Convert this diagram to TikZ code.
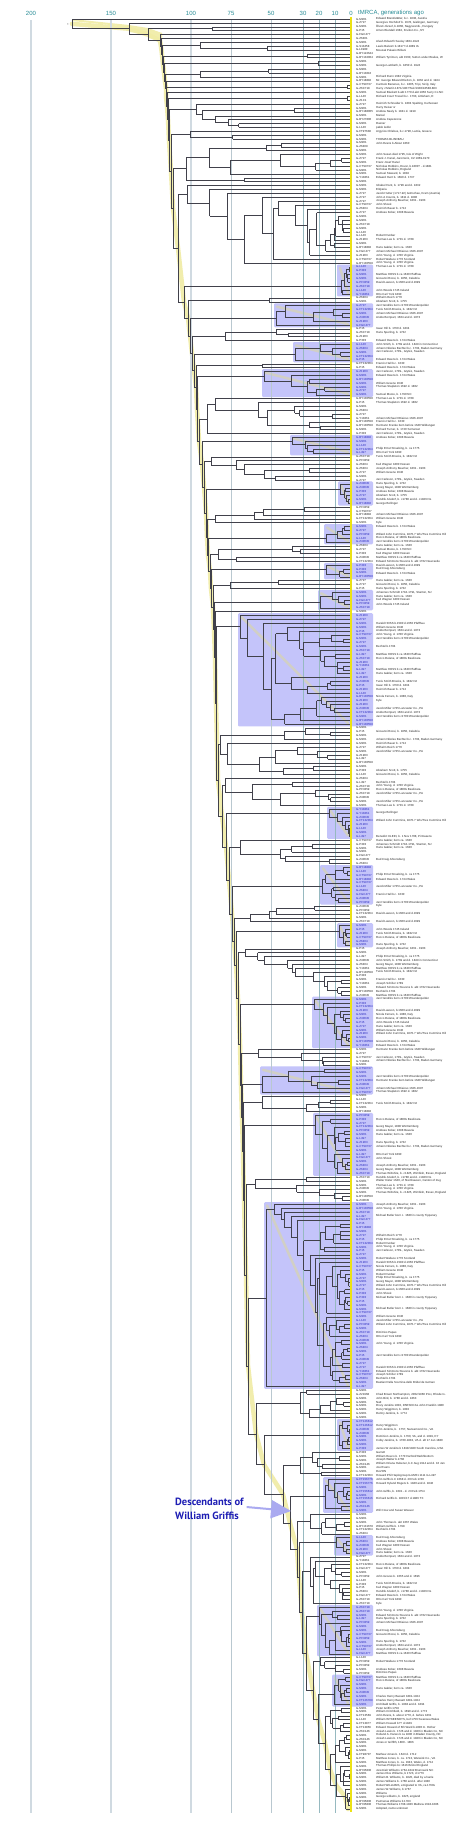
\documentclass[tikz,border=0pt]{standalone}
\usepackage{fontspec}
\setmainfont{Liberation Sans}
\setsansfont{Liberation Sans}
\newfontfamily\annfont{PT Sans}
\usetikzlibrary{arrows.meta}
\pgfdeclarelayer{boxl}
\pgfdeclarelayer{hll}
\pgfsetlayers{boxl,hll,main}
\definecolor{gridc}{RGB}{208,218,225}
\definecolor{gridm}{RGB}{185,200,208}
\definecolor{gridd}{RGB}{150,185,192}
\definecolor{axisc}{RGB}{40,140,150}
\definecolor{boxc}{RGB}{196,196,250}
\definecolor{hlc}{RGB}{240,236,165}
\definecolor{hlg}{RGB}{212,210,188}
\definecolor{zeroc}{RGB}{236,226,20}
\definecolor{edgec}{RGB}{65,65,75}
\definecolor{idblue}{RGB}{40,40,190}
\definecolor{idblack}{RGB}{40,40,40}
\definecolor{annc}{RGB}{30,30,180}
\definecolor{arrc}{RGB}{170,170,240}
\tikzset{
 edge/.style={draw=edgec, line width=0.5pt},
 gridmajor/.style={draw=gridc, line width=1.6pt},
 gridmid/.style={draw=gridm, line width=0.9pt},
 gridminor/.style={draw=gridd, line width=0.6pt},
 zeroline/.style={draw=zeroc, line width=1.6pt},
 axislab/.style={text=axisc, font=\fontsize{6}{7}\selectfont, inner sep=0pt},
 idlab/.style={anchor=west, inner sep=0pt, font=\fontsize{2.9}{3}\selectfont},
 nmlab/.style={anchor=west, inner sep=0pt, font=\fontsize{2.9}{3}\selectfont, text=idblack},
 clbox/.style={fill=boxc, draw=none, rounded corners=1.2pt},
 hlpath/.style={draw=hlc, line width=4.5pt, opacity=0.9, line join=round, line cap=round},
 hlwedge/.style={fill=hlc, draw=none, opacity=0.9},
 hlbox/.style={draw=hlg, line width=2.5pt, opacity=0.85, line cap=round},
 anntext/.style={font=\annfont\bfseries\fontsize{10.5}{13.5}\selectfont, text=annc, align=left, inner sep=0pt},
 annarrow/.style={draw=arrc, line width=2pt, -{Triangle[width=18pt,length=20pt]}},
}
% ---------- recursive subtree drawing ----------
\newcommand\gtree[3]{%
  \ifnum#1=#2\relax
    \pgfmathsetmacro\gyl{19+3.874*#1}%
    \draw[edge] (#3,\gyl) -- (351,\gyl);%
    \xdef\retY{\gyl}%
  \else
    \pgfmathsetmacro\gx{min(349,#3+(351-#3)*(0.04+rnd*0.75/(1+(#2-#1)/5)))}%
    \edef\gtmp{\noexpand\gnode{#1}{#2}{\gx}{#3}}\gtmp
  \fi}
\newcommand\gnode[4]{%
  \begingroup
  \pgfmathsetmacro\gp{rnd}%
  \ifdim\gp pt<0.42pt \edef\gk{#1}%
  \else\ifdim\gp pt<0.6pt \pgfmathtruncatemacro\gk{#2-1}%
  \else \pgfmathtruncatemacro\gk{min(#2-1,#1+floor(rnd*(#2-#1)))}%
  \fi\fi
  \pgfmathtruncatemacro\gkk{\gk+1}%
  \edef\gtmp{\noexpand\gtree{#1}{\gk}{#3}}\gtmp
  \let\gyA\retY
  \edef\gtmp{\noexpand\gtree{\gkk}{#2}{#3}}\gtmp
  \let\gyB\retY
  \draw[edge] (#3,\gyA) -- (#3,\gyB);
  \pgfmathsetmacro\gym{(\gyA+\gyB)/2}%
  \draw[edge] (#4,\gym) -- (#3,\gym);
  \xdef\retY{\gym}%
  \endgroup}
% ---------- explicit leaf labels ----------
\newcommand\defnm[3]{\expandafter\def\csname id#1\endcsname{#2}\expandafter\def\csname nm#1\endcsname{#3}}
\defnm{0}{G-M201}{Edward Brandstätter, b.c. 1838, Austria}
\defnm{1}{G-Z727}{Georgius Hochdorf b. 1678, Gielingen, Germany}
\defnm{2}{G-M201}{Ölveti József, b.1860, Nagyszentk., Hungary}
\defnm{3}{G-P15}{Amon Blundell 1682, Fruition Co., NY}
\defnm{4}{G-FGC477}{}
\defnm{5}{G-Z6401}{}
\defnm{6}{G-M201}{Alvah Edworth Seeley 1864-1924}
\defnm{7}{G-S13458}{Lewis Balsom b.1817?-d.1889 IA}
\defnm{8}{G-L1980}{Mouzak Palaeio Billiani}
\defnm{9}{G-BY122644}{}
\defnm{10}{G-BY132064}{William Tyrrimen, abt 1560, Sutton under Brailes, W}
\defnm{11}{G-M201}{}
\defnm{12}{G-M201}{George Lambeth, b. 1850 d. 1924}
\defnm{13}{G-M201}{}
\defnm{14}{G-BY13616}{}
\defnm{15}{G-M201}{Richard Dunn 1682 Virginia}
\defnm{16}{G-BY18882}{Mr. George Edward Dierton, b. 1862 and d. 1944}
\defnm{17}{G-CTS9737}{Carmelo Beneneo, b.c. 1805, Tripi, Sicily, Italy}
\defnm{18}{G-Z6C718}{Harry J Martin 1871/1967/Talc/1930/1858/1883}
\defnm{19}{G-M201}{Samuel Blackett b.abt 1770 d.abt 1850 Surry Co NC}
\defnm{20}{G-L140}{Richard Court Tresell b.c. 1763, Littleham, D}
\defnm{21}{G-Z1C1}{}
\defnm{22}{G-Z727}{Heinrich Schneider b. 1804 Spalting, Kurhessen}
\defnm{23}{G-M201}{Harry Heiser sr}
\defnm{24}{G-BY188005}{Andrew Neely b. 1841 d. 1919}
\defnm{25}{G-M201}{Marsel}
\defnm{26}{G-BY27806}{Andrew Capezzone}
\defnm{27}{G-M201}{Daxner}
\defnm{28}{G-L140}{pablo ledón}
\defnm{29}{G-FT97638}{Argyrios Chlebus, b.c.1790, Lamia, Greece}
\defnm{30}{G-M201}{}
\defnm{31}{G-M201}{THOMAS BLISDEAU}
\defnm{32}{G-M201}{John Evans b.About 1860}
\defnm{33}{G-Z6409}{}
\defnm{34}{G-M201}{}
\defnm{35}{G-M201}{John Susan died 1795, Isle of Wight}
\defnm{36}{G-Z727}{Frank J. Hanel, Jaromeriz, CZ 1869-1970}
\defnm{37}{G-M201}{Franz Josef Hanel}
\defnm{38}{G-CTS9737}{Nicholas Robbins, Dover, b.1800? - d.1881}
\defnm{39}{G-M201}{Nicholas Robbins, England}
\defnm{40}{G-M201}{Samuel Steward, b. 1804}
\defnm{41}{G-Y13861}{Edward Hunt b. 1690 d. 1737}
\defnm{42}{G-M201}{}
\defnm{43}{G-M201}{Ishabel Hunt, b. 1796 and d. 1832}
\defnm{44}{G-M201}{Eldyaria}
\defnm{45}{G-Z727}{Jacob Hutter (1717-92) Gottschee, Kram (Austria)}
\defnm{46}{G-Z727}{John A Counts, b. 1811 d. 1886}
\defnm{352}{G-M201}{Bastian Della Scumina dello Bridel de Gotnan}
\defnm{353}{G-L497}{}
\defnm{354}{G-M201}{}
\defnm{355}{G-Z21968}{Chad Brown Northampton, 2002/1960 Prov, Rhode Is.}
\defnm{356}{G-M201}{John Bird, b. 1780 and d. 1863}
\defnm{357}{G-M201}{Natt}
\defnm{358}{G-M201}{Drury Jenkins 1802, PARSOCAL John Franklin 1880}
\defnm{359}{G-M201}{Henry Wigginton, b. 1802}
\defnm{360}{G-M201}{Dentry Jenkins, b. 1774}
\defnm{361}{G-M201}{}
\defnm{362}{G-FT126612}{}
\defnm{363}{G-FT126612}{Henry Wigginton}
\defnm{364}{G-Z40045}{John Jenkins, b. ~1757, Nansemond Co., VA}
\defnm{365}{G-Z40045}{}
\defnm{366}{G-M201}{Dominion Jenkins, b. 1760, VA, and d. 1819, KY}
\defnm{367}{G-M201}{Colby Jenkins, b. 1760-1833, VA d. aft 17 Jun 1880}
\defnm{368}{G-M201}{}
\defnm{369}{G-P303}{James W Jenkins b 1810/1820 South Carolina, USA}
\defnm{370}{G-P303}{Garrett}
\defnm{371}{G-M201}{William Reeco b. 1770 Harford/Harbhbottom}
\defnm{372}{G-M201}{Joseph Walter b.1760}
\defnm{373}{G-Z6C146}{William Oriana Hubener, b.C Aug 1914 and d. 16 Jan}
\defnm{374}{G-M201}{Joe Evans}
\defnm{375}{G-M201}{DeVON}
\defnm{376}{G-FT132063}{Howard Phil Haplogroup G-M201 1111 G-L497}
\defnm{377}{G-FT156776}{John Griffis b.C 1668 d. 20 Feb 1740}
\defnm{378}{G-FT156776}{Howard Hyland Rogers b. 1840 and d. 1846}
\defnm{379}{G-M201}{}
\defnm{380}{G-FT156612}{John Griffis, b. 1691 - d. 23 Feb 1754}
\defnm{381}{G-M201}{}
\defnm{382}{G-FT156616}{Richard Griffis b. 1815/17 d.1886 TX}
\defnm{383}{G-M201}{}
\defnm{384}{G-Z6C146}{}
\defnm{385}{G-M201}{Will Crow and Susan Weaver}
\defnm{386}{G-M201}{}
\defnm{387}{G-M201}{}
\defnm{388}{G-M201}{John Thomas b. abt 1667 Wales}
\defnm{389}{G-BY131678}{William Griffis b. 1798}
\defnm{433}{G-M201}{Charles Henry Bassett 1881-1924}
\defnm{434}{G-FT126789}{Charles Henry Bassett 1881-1924}
\defnm{435}{G-M201}{Archibald Griffis, b. 1838 and d. 1894}
\defnm{436}{G-M201}{Peter Griffin 1758}
\defnm{437}{G-M201}{William Critchfield, b. 1690 and d. 1773}
\defnm{438}{G-FT13569}{John Evans, b. about 1770, d. before 1861}
\defnm{439}{G-L140}{William WYKEENOYS, bef 1756 Swansea Wales}
\defnm{440}{G-FT13877}{William Howard b?? d.1849}
\defnm{441}{G-FT13856}{Edward Howard of 6th Ward b.1806 m. Esther}
\defnm{442}{G-Z6C146}{Josiah Lewis b. 1726 and d. 1820 in Bladen Co, NC}
\defnm{443}{G-M201}{Holland A. Hanes b ca 1806 in Bladen County, NC}
\defnm{444}{G-Z6C146}{Josiah Lewis b. 1726 and d. 1820 in Bladen Co, NC}
\defnm{445}{G-M201}{Jones or Griffith, 1800 - 1866}
\defnm{446}{G-M201}{}
\defnm{447}{G-M201}{}
\defnm{448}{G-FT98707}{Mathew Jones b. 1643 d. 1712}
\defnm{449}{G-P15}{Matthew Jones, b. ca. 1713, Warwick Co., VA}
\defnm{450}{G-M201}{Matthew Jones, b. ca. 1643, Wales, d. 1712}
\defnm{451}{G-M201}{Thomas Phillips bc 1616 Bristol England}
\defnm{452}{G-BY95830}{Jeremiah Williams 1764-1842 Brunswick NC}
\defnm{453}{G-M201}{James Rice Williams, b 1723, d 1776}
\defnm{454}{G-M201}{William B. Williams, b. 1820, died by a hanle}
\defnm{455}{G-M201}{James Williams b. 1760 and d. after 1840}
\defnm{456}{G-M201}{Robert WILLIAMS, emigrated to VA, ca 1760s}
\defnm{457}{G-M201}{James W. Williams, b 1767}
\defnm{458}{G-M201}{Williams}
\defnm{459}{G-M201}{George williams, b. 1825, england}
\defnm{460}{G-BY95830}{Parmenas Williams b 1783}
\defnm{461}{G-BY95830}{Thomas Williams 1768-1836 Mathew 1618-1686}
\defnm{462}{G-M201}{Adopted, name unknown}
\pgfmathdeclarerandomlist{ids}{{G-M201}{G-M201}{G-M201}{G-M201}{G-M201}{G-M201}{G-Z727}{G-P303}{G-L140}{G-FGC477}{G-Z6404}{G-CTS9737}{G-BY18882}{G-FT132064}{G-P15}{G-Z40045}{G-L497}{G-Z6C718}{G-BY130558}{G-Y13861}{G-PF3359}{G-Z1903}}
\pgfmathdeclarerandomlist{names}{{David Lawson, b.1660 and d.1699}{Jan Carlsson, 1709-, Grytéz, Sweden}{Rocco Delane, of 1800s Basilicata}{Walter Kister 1640, of Steinhausen, Canton of Zug}{Johann Nikolas Bechtel b.c. 1704, Baden Germany}{Robert Dunbar}{Joseph Anthony Beacher, 1861 - 1903}{Kyle}{Michael Butler born c. 1680 in county Tipperary}{John Groves b. 1665 and d. 1696}{Willard John Cummins, 1870-? Wis/Tres Cummins Hill}{Edward Simmons Stevens b. abt 1762 Newcastle}{Thomas Stapleton 1692 d. 1862}{Andre Bompart, 1664 and d. 1873}{Otto Carl York 1890}{John Smith, b. 1769 and d. 1849 in Connecticut}{Johannes Schmidt 1718-1791, Stanton, NJ}{Tunis Smith Brooks, b. 1832 NJ}{Hendrik Alsdorf, b. c1780 and d. c1826 NL}{John Shook}{Harald HOSS b.1580 d.1650 Pfaffhau}{Matthias HOSS b ca 1630 Pfaffhau}{Bud Craig Ahrensburg}{Thomas Wiltshire, b. c1825, Wimbish, Essex, England}{Jan Hendriks born c1700 Woerdenpolder}{Johann Michael Ottiaicus 1626-1697}{Hermann Franke born before 1640 Wildungen}{Benedict KLEIN, b. 1 Nov 1708, Pirmasens}{Bechtel b.1704}{Wilhelm Reich 1770}{George Bollinger}{William Greene 1640}{Richard Turner, b. 1720 Somerset}{John Young, d. 1780 Virginia}{Peter Jansen 1690}{Hans Gabler, born ca. 1630}{Joseph Schiller 1789}{Giovanni Rossi, b. 1850, Calabria}{Isaac Hill b. 1760 d. 1834}{Jacob Miller 1735 Lancaster Co., PA}{Andreas Kober, 1698 Bavaria}{Thomas Lee b. 1701 d. 1768}{John Woods 1745 Ireland}{Francis Hall b.c. 1630}{Nicola Ferraro, b. 1880, Italy}{Heinrich Bauer b. 1712}{Robert Wallace 1770 Scotland}{Samuel Moore, b. 1790 NC}{Dimitrios Papas}{Abraham Scott, b. 1755}{Karl Wagner 1800 Hessen}{Philip Ernst Struebing, b. ca 1775}{Hans Sperling, b. 1732}{Edward Owens b. 1744 Wales}{Georg Mayer, 1808 Württemberg}}
\begin{document}
\begin{tikzpicture}[x=1pt,y=-1pt]
\useasboundingbox (0,0) rectangle (474,1821);
\pgfmathsetseed{4711}
% ---------- background, grid ----------
\begin{pgfonlayer}{boxl}
\fill[white] (0,0) rectangle (474,1821);
\end{pgfonlayer}
\draw[gridmajor] (31,20) -- (31,1813);
\draw[gridmajor] (111,20) -- (111,1813);
\draw[gridmajor] (191,20) -- (191,1813);
\draw[gridmid] (231,20) -- (231,1813);
\draw[gridmid] (271,20) -- (271,1813);
\draw[gridminor] (303,20) -- (303,1813);
\draw[gridminor] (319,20) -- (319,1813);
\draw[gridminor] (335,20) -- (335,1813);
\node[axislab] (ax200) at (31,13) {200};
\node[axislab] (ax150) at (111,13) {150};
\node[axislab] (ax100) at (191,13) {100};
\node[axislab] (ax75) at (231,13) {75};
\node[axislab] (ax50) at (271,13) {50};
\node[axislab] (ax30) at (303,13) {30};
\node[axislab] (ax20) at (319,13) {20};
\node[axislab] (ax10) at (335,13) {10};
\node[axislab] (ax0) at (351,13) {0};
\node[axislab, anchor=west] (axtitle) at (358,13) {tMRCA, generations ago};
% ---------- highlighted clades ----------
\begin{pgfonlayer}{boxl}
\foreach \ba/\bb/\bx in {64/71/337, 74/79/274, 84/88/293, 91/97/262, 108/112/290,
  120/125/338, 131/135/324, 141/144/324, 148/152/318, 154/182/238, 204/211/327,
  219/228/320, 234/239/337, 253/265/312, 271/277/260, 283/298/313, 306/353/264,
  362/369/337, 377/385/323, 392/396/334, 410/422/317, 428/435/332}{%
  \pgfmathsetmacro\yt{19+3.874*\ba-2.4}%
  \pgfmathsetmacro\ybb{19+3.874*\bb+2.4}%
  \fill[clbox] (\bx,\yt) rectangle (373,\ybb);
  \foreach \i in {\ba,...,\bb}{\expandafter\gdef\csname inb\i\endcsname{}}%
}
\end{pgfonlayer}
\begin{pgfonlayer}{hll}
\foreach \ba/\bb/\bx in {64/71/337, 74/79/274, 84/88/293, 91/97/262, 108/112/290,
  120/125/338, 131/135/324, 141/144/324, 148/152/318, 154/182/238, 204/211/327,
  219/228/320, 234/239/337, 253/265/312, 271/277/260, 283/298/313, 306/353/264,
  362/369/337, 377/385/323, 392/396/334, 410/422/317, 428/435/332}{%
  \pgfmathsetmacro\yt{19+3.874*\ba+1}%
  \pgfmathsetmacro\ybb{19+3.874*\bb-1}%
  \pgfmathsetmacro\xs{\bx+3}%
  \draw[hlbox] (\xs,\yt) -- (348,\ybb);
}
\end{pgfonlayer}
% ---------- side clades along the backbone ----------
\foreach \qa/\qb/\qr/\qx [count=\k] in {
 0/0/0/72, 1/1/0/129, 2/3/212/148, 4/4/0/160, 5/5/0/161, 6/8/200/162,
 9/10/307/163, 11/12/318/164, 13/15/200/165, 16/16/0/166, 17/18/347/166,
 19/19/0/167, 20/21/347/168, 22/28/196/169, 29/31/190/171, 32/42/186/173,
 43/63/187/178, 64/71/341/184, 72/73/269/188, 74/79/276/190, 80/83/225/192,
 84/88/295/194, 89/90/262/196, 91/97/264/197, 98/107/207/199, 108/112/292/202,
 113/119/211/204, 120/125/340/206, 126/130/215/207, 131/135/326/208,
 136/140/218/210, 141/144/326/211, 145/147/230/213, 148/152/320/214,
 153/153/0/215, 154/182/240/216, 183/195/220/218, 196/203/225/222,
 204/211/329/226, 212/218/240/229, 219/228/322/232, 229/233/250/234,
 234/239/339/236, 240/252/245/238, 253/265/314/240, 266/270/258/241,
 271/277/262/242, 278/282/262/243, 283/298/315/244, 299/305/255/246,
 306/353/266/248, 354/361/300/256, 362/369/339/264, 370/376/300/283,
 377/385/325/290, 386/391/310/297, 392/396/336/299, 397/409/310/302,
 410/422/319/306, 423/427/320/313, 428/435/334/318, 436/442/330/325,
 443/450/335/330, 451/456/340/336, 457/462/345/336}{%
  \ifnum\qa=\qb\relax
    \edef\gtmp{\noexpand\gtree{\qa}{\qb}{\qx}}\gtmp
  \else
    \edef\gtmp{\noexpand\gnode{\qa}{\qb}{\qr}{\qx}}\gtmp
  \fi
  \expandafter\xdef\csname cy\k\endcsname{\retY}%
  \expandafter\xdef\csname xb\k\endcsname{\qx}%
  \expandafter\xdef\csname xr\k\endcsname{\qr}%
  \xdef\K{\k}%
}
% ---------- backbone (bottom-up) ----------
\pgfmathtruncatemacro\Km{\K-1}
\pgfmathtruncatemacro\Kmm{\K-2}
\edef\ya{\csname cy\Km\endcsname}\edef\yb{\csname cy\K\endcsname}\edef\xx{\csname xb\Km\endcsname}
\draw[edge] (\xx,\ya) -- (\xx,\yb);
\pgfmathsetmacro\tt{(\ya+\yb)/2}\expandafter\xdef\csname yn\Km\endcsname{\tt}
\foreach \k in {\Kmm,...,1}{%
  \pgfmathtruncatemacro\kk{\k+1}%
  \edef\ya{\csname cy\k\endcsname}\edef\yb{\csname yn\kk\endcsname}%
  \edef\xx{\csname xb\k\endcsname}\edef\xn{\csname xb\kk\endcsname}%
  \draw[edge] (\xx,\ya) -- (\xx,\yb);
  \draw[edge] (\xx,\yb) -- (\xn,\yb);
  \pgfmathsetmacro\tt{(\ya+\yb)/2}%
  \expandafter\xdef\csname yn\k\endcsname{\tt}%
}
% ---------- highlighted lineage ----------
\xdef\hl{(\csname xb1\endcsname,\csname yn1\endcsname)}
\foreach \k in {2,...,\Km}{%
  \xdef\hl{\hl -- (\csname xb\k\endcsname,\csname yn\k\endcsname)}%
}
\xdef\hl{\hl -- (\csname xr\K\endcsname,\csname cy\K\endcsname) -- (348,1809)}
\begin{pgfonlayer}{hll}
\edef\tmpdraw{\noexpand\draw[hlpath] \hl;}\tmpdraw
\fill[hlwedge] (72,21) -- (129,27) -- (129,32) -- (148,34) -- (148,38) -- (162,40) -- (162,33) -- (148,28) -- (129,25) -- (72,19) -- cycle;
\end{pgfonlayer}
\node[font=\fontsize{4}{4}\selectfont, text=black!60, inner sep=0pt] (rootmark) at (68,25) {*};
% ---------- zero line ----------
\draw[zeroline] (351,17) -- (351,1812);
% ---------- leaf labels ----------
\foreach \i in {0,...,462}{%
  \pgfmathsetmacro\yy{19+3.874*\i}%
  \ifcsname id\i\endcsname
    \expandafter\let\expandafter\lid\csname id\i\endcsname
    \expandafter\let\expandafter\lnm\csname nm\i\endcsname
  \else
    \pgfmathrandomitem{\lid}{ids}%
    \pgfmathsetmacro\rr{rnd}%
    \ifdim\rr pt<0.68pt \pgfmathrandomitem{\lnm}{names}\else\def\lnm{}\fi
  \fi
  \ifcsname inb\i\endcsname\def\lcol{idblue}\else\def\lcol{idblack}\fi
  \node[idlab, text=\lcol] (id\i) at (356,\yy) {\lid};
  \ifx\lnm\empty\else\node[nmlab] (nm\i) at (376,\yy) {\lnm};\fi
}
% ---------- annotation ----------
\node[anntext, anchor=west] (ann) at (175,1509) {Descendants of\\William Griffis};
\coordinate (anntip) at (291,1511);
\draw[annarrow] ([xshift=3pt,yshift=2pt]ann.east) -- (anntip);
\end{tikzpicture}
\end{document}
